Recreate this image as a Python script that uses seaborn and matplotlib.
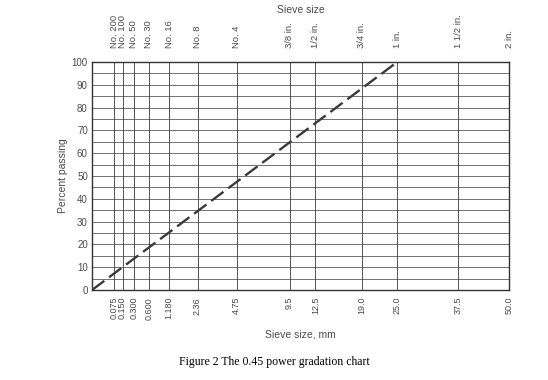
import numpy as np
import matplotlib
matplotlib.use("Agg")
import matplotlib.pyplot as plt
import seaborn as sns
from matplotlib.ticker import MultipleLocator

sns.set_style("white")
plt.rcParams['font.family'] = ['Liberation Sans', 'DejaVu Sans']

# Data
sieve_mm = [0.075, 0.150, 0.300, 0.600, 1.180, 2.36, 4.75, 9.5, 12.5, 19.0, 25.0, 37.5, 50.0]
sieve_mm_labels = ["0.075", "0.150", "0.300", "0.600", "1.180", "2.36", "4.75",
                   "9.5", "12.5", "19.0", "25.0", "37.5", "50.0"]
sieve_names = ["No. 200", "No. 100", "No. 50", "No. 30", "No. 16", "No. 8", "No. 4",
               "3/8 in.", "1/2 in.", "3/4 in.", "1 in.", "1 1/2 in.", "2 in."]
max_density_size = [0.0, 25.0]
max_density_pass = [0.0, 100.0]
y_ticks = [0, 10, 20, 30, 40, 50, 60, 70, 80, 90, 100]

POW = 0.45
fwd = lambda x: np.power(np.clip(x, 0, None), POW)
inv = lambda x: np.power(np.clip(x, 0, None), 1.0 / POW)

text_col = "#4a4a4a"
line_col = "#3a3a3a"

fig = plt.figure(figsize=(5.48, 3.80), dpi=100)
ax = fig.add_axes([92 / 548, 1 - 290 / 380, (509 - 92) / 548, (290 - 62) / 380])
ax.set_xscale('function', functions=(fwd, inv))
ax.set_xlim(0, 50)
ax.set_ylim(0, 100)

sns.lineplot(x=max_density_size, y=max_density_pass, ax=ax, color=line_col,
             lw=1.7, linestyle=(0, (6.5, 2.5)), zorder=5)

ax.set_xticks(sieve_mm)
ax.set_xticklabels(sieve_mm_labels, rotation=90, fontsize=6.5, color=text_col)
ax.set_yticks(y_ticks)
ax.set_yticklabels([str(v) for v in y_ticks], fontsize=7, color=text_col)
ax.yaxis.set_minor_locator(MultipleLocator(5))
ax.tick_params(axis='both', which='both', length=0)
ax.tick_params(axis='x', pad=5)
ax.tick_params(axis='y', pad=3)
ax.grid(True, which='major', axis='x', color=line_col, lw=0.6)
ax.grid(True, which='both', axis='y', color=line_col, lw=0.5)
ax.set_axisbelow(True)
for s in ax.spines.values():
    s.set_color("#333333")
    s.set_linewidth(1.0)

ax.set_xlabel("Sieve size, mm", fontsize=7.5, color=text_col, labelpad=7)
ax.set_ylabel("Percent passing", fontsize=7.5, color=text_col, labelpad=3)

ax2 = ax.twiny()
ax2.set_xscale('function', functions=(fwd, inv))
ax2.set_xlim(ax.get_xlim())
ax2.set_xticks(sieve_mm)
ax2.set_xticklabels(sieve_names, rotation=90, fontsize=6.8, color=text_col)
ax2.tick_params(axis='x', length=0, pad=10)
for s in ax2.spines.values():
    s.set_visible(False)
ax2.set_xlabel("Sieve size", fontsize=7.5, color=text_col, labelpad=1)

fig.text(0.5, 1 - 362 / 380, "Figure 2 The 0.45 power gradation chart",
         ha='center', va='center', fontsize=8.5, family=['Liberation Serif'], color='black')

fig.savefig("out.png", dpi=100)
